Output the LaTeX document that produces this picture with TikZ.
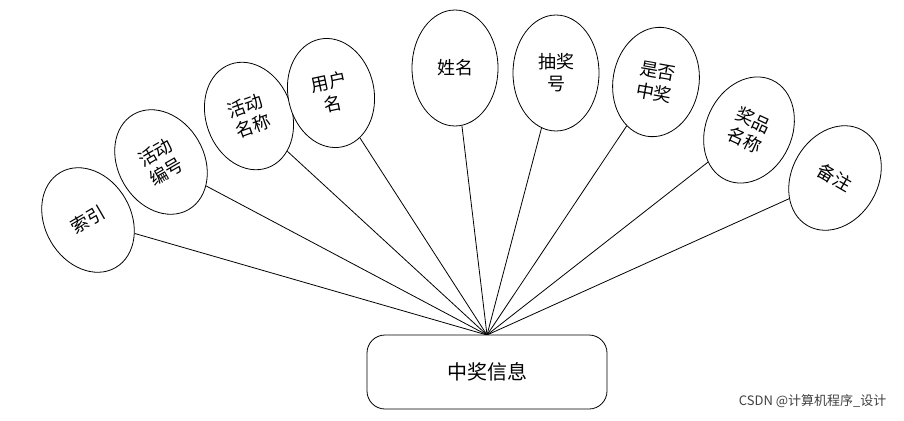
\documentclass[tikz,border=0pt]{standalone}
\usepackage{fontspec}
\setmainfont{Noto Sans CJK SC}
\usetikzlibrary{shapes.geometric}
\begin{document}
\begin{tikzpicture}[x=1pt,y=1pt,
  attr/.style={draw,thick,ellipse,fill=white,minimum width=86pt,minimum height=110pt,inner sep=0pt,font=\fontsize{18}{22}\selectfont,align=center},
  link/.style={thick}]
\useasboundingbox (0,0) rectangle (904,-420);
\coordinate (hub) at (487,-335);
\node[attr,rotate=30] (a1) at (88,-220) {索引};
\node[attr,rotate=30] (a2) at (161,-162) {活动\\编号};
\node[attr,rotate=20] (a3) at (249,-116) {活动\\名称};
\node[attr,rotate=12] (a4) at (331,-93) {用户\\名};
\node[attr,minimum height=116pt] (a5) at (455,-68) {姓名};
\node[attr,minimum height=116pt] (a6) at (556,-73) {抽奖\\号};
\node[attr,rotate=-10] (a7) at (656,-82) {是否\\中奖};
\node[attr,rotate=-25] (a8) at (749,-130) {奖品\\名称};
\node[attr,rotate=-30] (a9) at (835,-178) {备注};
\foreach \i in {1,...,9} \draw[link] (hub) -- (a\i);
\node[draw,thick,rounded corners=18pt,minimum width=240pt,minimum height=74pt,font=\fontsize{20}{24}\selectfont,fill=white] (m) at (487,-372) {中奖信息};
\node[font=\fontsize{13}{15}\selectfont,text=black!75,anchor=east] (w) at (890,-401) {CSDN @计算机程序\_设计};
\end{tikzpicture}
\end{document}
